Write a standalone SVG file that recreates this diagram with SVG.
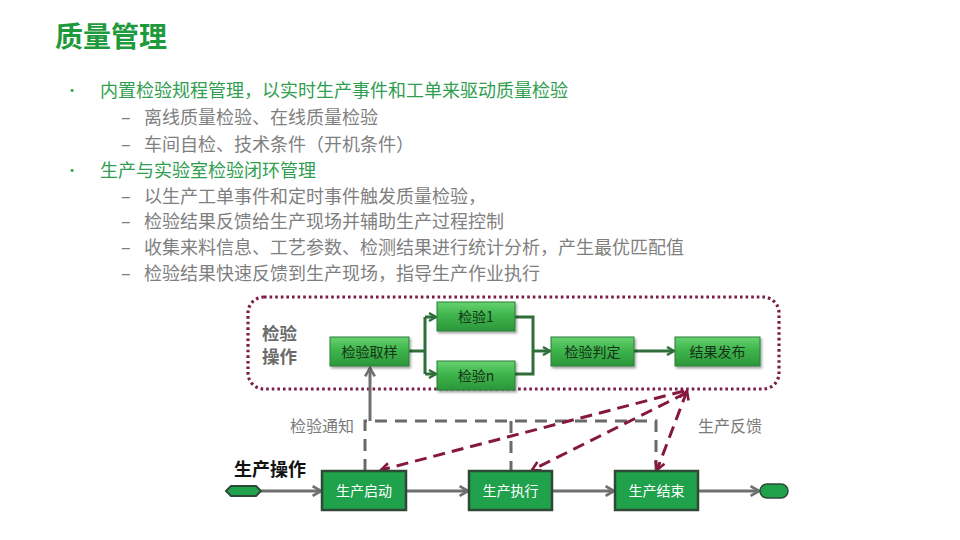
<svg xmlns="http://www.w3.org/2000/svg" width="960" height="540" viewBox="0 0 960 540">
<style>
  text { font-family: "Noto Sans CJK SC", "Noto Sans", sans-serif; }
  .title { font-size: 28px; font-weight: bold; fill: #1e9a3c; }
  .b1 { font-size: 18px; fill: #2f9e4f; }
  .b2 { font-size: 18px; fill: #7f7f7f; }
  .dot { font-size: 14px; fill: #2f9e4f; }
  .dash { font-size: 18px; fill: #7f7f7f; }
  .lbl { font-size: 16px; fill: #7a7a7a; }
  .blbl { font-size: 17.5px; font-weight: bold; fill: #6b6b6b; }
  .op { font-size: 18px; font-weight: bold; fill: #111; }
  .tbox { fill: url(#gBox); stroke: #2a7f36; stroke-width: 1; filter: url(#sh); }
  .ttxt { font-size: 14px; fill: #16331a; text-anchor: middle; }
  .pbox { fill: #20a14c; stroke: #2e4a37; stroke-width: 2.5; }
  .ptxt { font-size: 14px; fill: #ffffff; text-anchor: middle; }
  .gline { fill: none; stroke: #2f6e3a; stroke-width: 3; }
  .grey { fill: none; stroke: #6f6f6f; stroke-width: 3; }
  .gdash { fill: none; stroke: #6a6a6a; stroke-width: 3; stroke-dasharray: 12 8; }
  .mdash { fill: none; stroke: #85183f; stroke-width: 3; stroke-dasharray: 12 7; }
</style>
<defs>
  <linearGradient id="gBox" x1="0" y1="0" x2="0" y2="1">
    <stop offset="0" stop-color="#66d270"/>
    <stop offset="0.45" stop-color="#3fb54c"/>
    <stop offset="1" stop-color="#2b963a"/>
  </linearGradient>
  <filter id="sh" x="-10%" y="-20%" width="130%" height="160%">
    <feDropShadow dx="1.5" dy="2" stdDeviation="1.2" flood-color="#000" flood-opacity="0.35"/>
  </filter>
  <marker id="mG" viewBox="0 0 10 10" refX="8" refY="5" markerWidth="10" markerHeight="10" markerUnits="userSpaceOnUse" orient="auto">
    <path d="M1,1 L8,5 L1,9" fill="none" stroke="#2f6e3a" stroke-width="2.4"/>
  </marker>
  <marker id="mGr" viewBox="0 0 10 10" refX="8" refY="5" markerWidth="12" markerHeight="12" markerUnits="userSpaceOnUse" orient="auto">
    <path d="M1,1 L8,5 L1,9" fill="none" stroke="#6f6f6f" stroke-width="2.2"/>
  </marker>
  <marker id="mM" viewBox="0 0 10 10" refX="8" refY="5" markerWidth="12" markerHeight="12" markerUnits="userSpaceOnUse" orient="auto-start-reverse">
    <path d="M1,1 L8,5 L1,9" fill="none" stroke="#85183f" stroke-width="2.2"/>
  </marker>
</defs>

<text class="title" x="55" y="47">质量管理</text>

<g id="bullets">
  <text class="dot" x="65" y="95">•</text>
  <text class="b1" x="100" y="96.5">内置检验规程管理，以实时生产事件和工单来驱动质量检验</text>
  <text class="dash" x="121" y="123.5">–</text>
  <text class="b2" x="144" y="123.5">离线质量检验、在线质量检验</text>
  <text class="dash" x="121" y="150.5">–</text>
  <text class="b2" x="144" y="150.5">车间自检、技术条件（开机条件）</text>
  <text class="dot" x="65" y="175">•</text>
  <text class="b1" x="100" y="176.5">生产与实验室检验闭环管理</text>
  <text class="dash" x="121" y="202.5">–</text>
  <text class="b2" x="144" y="202.5">以生产工单事件和定时事件触发质量检验，</text>
  <text class="dash" x="121" y="227.5">–</text>
  <text class="b2" x="144" y="227.5">检验结果反馈给生产现场并辅助生产过程控制</text>
  <text class="dash" x="121" y="253.5">–</text>
  <text class="b2" x="144" y="253.5">收集来料信息、工艺参数、检测结果进行统计分析，产生最优匹配值</text>
  <text class="dash" x="121" y="279.5">–</text>
  <text class="b2" x="144" y="279.5">检验结果快速反馈到生产现场，指导生产作业执行</text>
</g>

<g id="inspect-zone">
  <rect x="248" y="297" width="531" height="92" rx="16" ry="16" fill="none" stroke="#7b1c46" stroke-width="3.2" stroke-dasharray="2.6 3" />
  <text class="blbl" x="262" y="339.5">检验</text>
  <text class="blbl" x="262" y="362.5">操作</text>
</g>

<g id="connectors">
  <!-- green inspection flow -->
  <path class="gline" d="M409,351 H425 M425,317 V374" />
  <path class="gline" d="M425,317 H436" marker-end="url(#mG)"/>
  <path class="gline" d="M425,374 H436" marker-end="url(#mG)"/>
  <path class="gline" d="M515,317 H533 V374 H515" />
  <path class="gline" d="M533,351 H550" marker-end="url(#mG)"/>
  <path class="gline" d="M634,351 H674" marker-end="url(#mG)"/>
  <!-- grey production flow -->
  <path class="grey" d="M261,491 H321" marker-end="url(#mGr)"/>
  <path class="grey" d="M406,491 H468" marker-end="url(#mGr)"/>
  <path class="grey" d="M552,491 H614" marker-end="url(#mGr)"/>
  <path class="grey" d="M698,491 H759" marker-end="url(#mGr)"/>
  <!-- inspection notice -->
  <path class="grey" d="M370,421 V368" marker-end="url(#mGr)"/>
  <path class="gdash" d="M365,471 V421 H656 V471 M511,421 V471" />
  <!-- production feedback -->
  <path class="mdash" d="M684,391 L381,470" marker-end="url(#mM)"/>
  <path class="mdash" d="M686,393 L532,470" marker-end="url(#mM)"/>
  <path class="mdash" d="M687,391 L657,470" marker-start="url(#mM)" marker-end="url(#mM)"/>
</g>

<text class="lbl" x="290" y="432">检验通知</text>
<text class="lbl" x="698" y="432">生产反馈</text>
<text class="op" x="234" y="476">生产操作</text>

<g id="n-sample"><rect class="tbox" x="330" y="337" width="79" height="29"/><text class="ttxt" x="369.5" y="356.5">检验取样</text></g>
<g id="n-insp1"><rect class="tbox" x="437" y="302" width="78" height="29"/><text class="ttxt" x="476" y="321.5">检验1</text></g>
<g id="n-inspn"><rect class="tbox" x="437" y="361" width="78" height="29"/><text class="ttxt" x="476" y="380.5">检验n</text></g>
<g id="n-judge"><rect class="tbox" x="551" y="337" width="83" height="29"/><text class="ttxt" x="592.5" y="356.5">检验判定</text></g>
<g id="n-publish"><rect class="tbox" x="675" y="337" width="85" height="29"/><text class="ttxt" x="717.5" y="356.5">结果发布</text></g>

<g id="n-start"><path d="M226,491 L231,486 H256 L261,491 L256,496 H231 Z" fill="#20a14c" stroke="#2e4a37" stroke-width="2"/></g>
<g id="n-p1"><rect class="pbox" x="322" y="471" width="84" height="39"/><text class="ptxt" x="364" y="496">生产启动</text></g>
<g id="n-p2"><rect class="pbox" x="469" y="471" width="83" height="39"/><text class="ptxt" x="510.5" y="496">生产执行</text></g>
<g id="n-p3"><rect class="pbox" x="615" y="471" width="83" height="39"/><text class="ptxt" x="656.5" y="496">生产结束</text></g>
<g id="n-end"><rect x="760" y="484" width="28" height="14" rx="7" ry="7" fill="#20a14c" stroke="#2e4a37" stroke-width="1.5"/></g>
</svg>
